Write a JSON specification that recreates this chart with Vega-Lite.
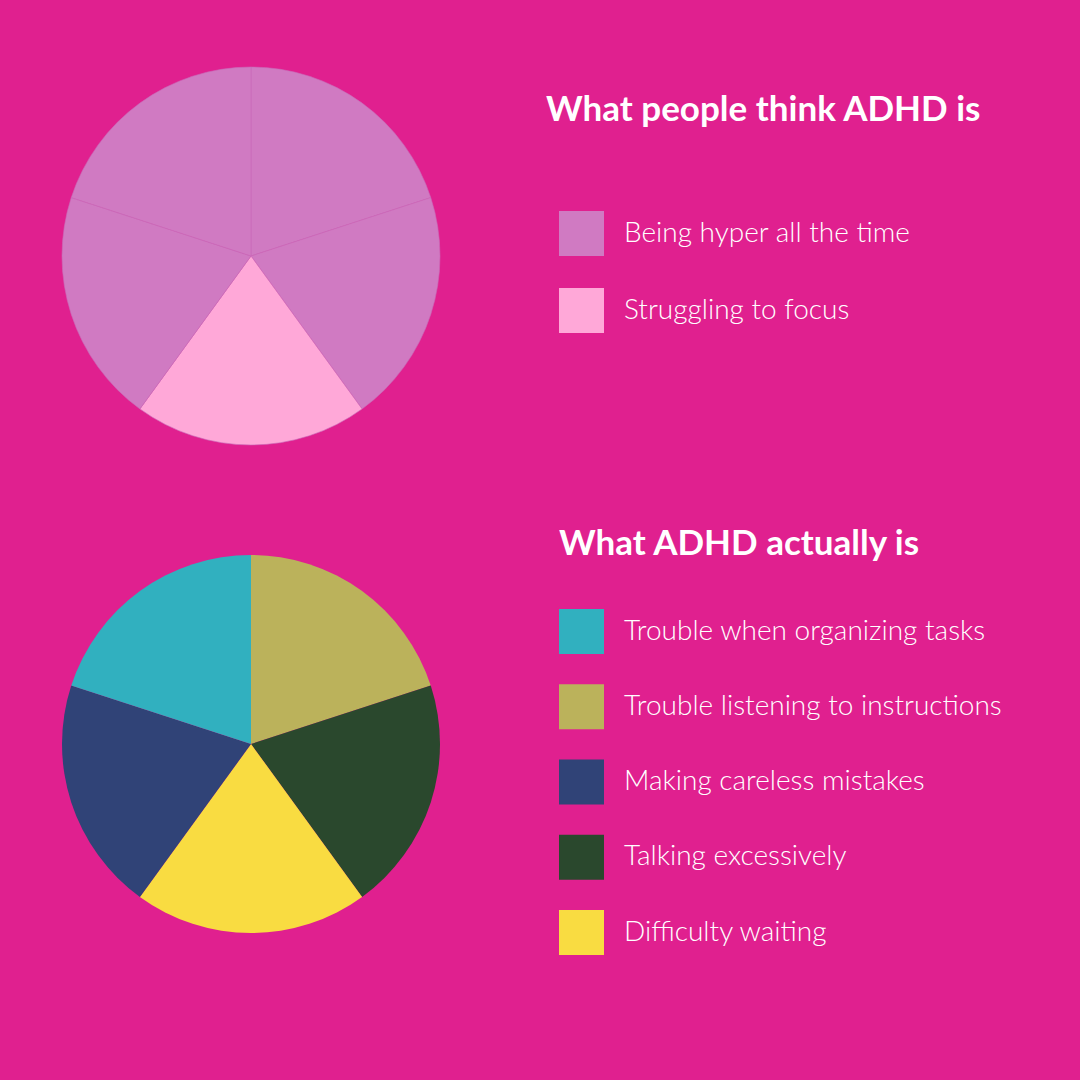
{
  "$schema": "https://vega.github.io/schema/vega-lite/v6.json",
  "background": "#E0208F",
  "padding": {"left": 60, "top": 65, "right": 78, "bottom": 125},
  "config": {
    "view": {"stroke": null},
    "font": "Lato",
    "legend": {
      "orient": "none",
      "padding": 0,
      "symbolType": "square",
      "symbolSize": 2025,
      "symbolStrokeWidth": 0,
      "symbolOpacity": 1,
      "labelColor": "#FFFFFF",
      "labelFont": "Lato",
      "labelFontSize": 28,
      "labelFontWeight": 300,
      "labelLimit": 600,
      "titleColor": "#FFFFFF",
      "titleFont": "Lato",
      "titleFontSize": 35,
      "titleFontWeight": "bold",
      "titleLimit": 700,
      "titleBaseline": "top"
    }
  },
  "spacing": 80,
  "resolve": {"scale": {"color": "independent", "theta": "independent"}, "legend": {"color": "independent"}},
  "vconcat": [
    {
      "width": 378,
      "height": 378,
      "data": {"values": [
        {"slice": 1, "label": "Being hyper all the time", "value": 1},
        {"slice": 2, "label": "Being hyper all the time", "value": 1},
        {"slice": 3, "label": "Struggling to focus", "value": 1},
        {"slice": 4, "label": "Being hyper all the time", "value": 1},
        {"slice": 5, "label": "Being hyper all the time", "value": 1}
      ]},
      "mark": {"type": "arc", "stroke": "#C969B8", "strokeWidth": 0.6},
      "encoding": {
        "theta": {"field": "value", "type": "quantitative", "stack": true},
        "order": {"field": "slice", "type": "quantitative"},
        "color": {
          "field": "label",
          "type": "nominal",
          "scale": {"domain": ["Being hyper all the time", "Struggling to focus"], "range": ["#D07AC2", "#FFA8D8"]},
          "legend": {
            "title": "What people think ADHD is",
            "legendX": 484,
            "legendY": 26,
            "titlePadding": 83,
            "rowPadding": 32,
            "symbolOffset": 13,
            "labelOffset": 20
          }
        }
      }
    },
    {
      "width": 378,
      "height": 378,
      "data": {"values": [
        {"slice": 1, "label": "Trouble listening to instructions", "value": 1},
        {"slice": 2, "label": "Talking excessively", "value": 1},
        {"slice": 3, "label": "Difficulty waiting", "value": 1},
        {"slice": 4, "label": "Making careless mistakes", "value": 1},
        {"slice": 5, "label": "Trouble when organizing tasks", "value": 1}
      ]},
      "mark": {"type": "arc"},
      "encoding": {
        "theta": {"field": "value", "type": "quantitative", "stack": true},
        "order": {"field": "slice", "type": "quantitative"},
        "color": {
          "field": "label",
          "type": "nominal",
          "scale": {
            "domain": ["Trouble when organizing tasks", "Trouble listening to instructions", "Making careless mistakes", "Talking excessively", "Difficulty waiting"],
            "range": ["#31B0BF", "#BBB25B", "#304377", "#2A482D", "#F9DC41"]
          },
          "legend": {
            "title": "What ADHD actually is",
            "legendX": 497,
            "legendY": -28,
            "titlePadding": 47,
            "rowPadding": 30.25,
            "labelOffset": 20
          }
        }
      }
    }
  ]
}
